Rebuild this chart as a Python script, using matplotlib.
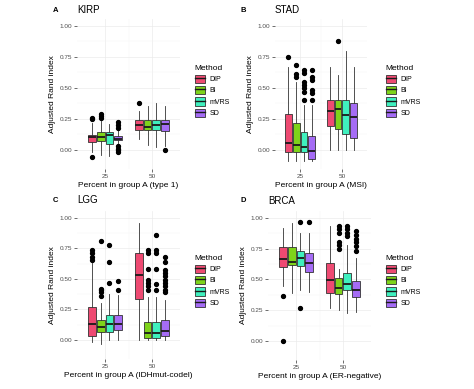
import numpy as np
import matplotlib
matplotlib.use("Agg")
import matplotlib.pyplot as plt
from matplotlib.patches import Patch
from matplotlib.lines import Line2D

plt.rcParams["font.family"] = ["Liberation Sans", "DejaVu Sans"]

methods = ["DIP", "BI", "mVRS", "SD"]
colors = ["#EE4A72", "#7ED31A", "#3FF0BE", "#A56CF5"]
groups = ["25", "50"]

# box statistics, rows = group (25, 50), columns = method
kirp_q1 = [[0.060, 0.067, 0.048, 0.075], [0.156, 0.156, 0.156, 0.150]]
kirp_med = [[0.100, 0.107, 0.121, 0.090], [0.200, 0.185, 0.200, 0.210]]
kirp_q3 = [[0.121, 0.140, 0.143, 0.113], [0.242, 0.240, 0.240, 0.240]]
kirp_lo = [[-0.02, -0.04, -0.05, 0.04], [0.09, 0.04, 0.02, 0.03]]
kirp_hi = [[0.22, 0.23, 0.205, 0.16], [0.31, 0.35, 0.38, 0.35]]
kirp_out = [[[0.26, 0.245, -0.055], [0.285, 0.27, 0.26], [],
             [0.228, 0.20, 0.175, 0.027, 0.01, -0.005, -0.02]],
            [[0.38], [], [], [0.0]]]

stad_q1 = [[-0.014, -0.014, -0.020, -0.075], [0.194, 0.167, 0.127, 0.094]]
stad_med = [[0.054, 0.040, 0.019, -0.008], [0.310, 0.328, 0.282, 0.264]]
stad_q3 = [[0.290, 0.220, 0.143, 0.113], [0.403, 0.403, 0.403, 0.376]]
stad_lo = [[-0.094, -0.094, -0.094, -0.094], [0.0, 0.0, 0.0, 0.0]]
stad_hi = [[0.67, 0.55, 0.36, 0.36], [0.667, 0.605, 0.80, 0.667]]
stad_out = [[[0.75], [0.685, 0.61, 0.59],
             [0.645, 0.62, 0.55, 0.524, 0.497, 0.47, 0.40],
             [0.64, 0.59, 0.565, 0.48, 0.46, 0.40]],
            [[], [0.88], [], []]]

lgg_q1 = [[0.033, 0.068, 0.068, 0.082], [0.333, 0.020, 0.020, 0.033]]
lgg_med = [[0.128, 0.109, 0.130, 0.130], [0.530, 0.060, 0.060, 0.070]]
lgg_q3 = [[0.272, 0.163, 0.204, 0.204], [0.709, 0.150, 0.150, 0.163]]
lgg_lo = [[-0.02, -0.03, 0.0, 0.0], [0.0, 0.0, 0.0, 0.0]]
lgg_hi = [[0.627, 0.30, 0.38, 0.37], [0.96, 0.354, 0.35, 0.33]]
lgg_out = [[[0.736, 0.71, 0.68, 0.654], [0.81, 0.42, 0.41, 0.395, 0.36],
            [0.777, 0.635, 0.47], [0.485, 0.41]],
           [[], [0.74, 0.71, 0.578, 0.49, 0.47, 0.44, 0.41],
            [0.86, 0.74, 0.71, 0.578, 0.46, 0.41],
            [0.676, 0.64, 0.575, 0.55, 0.52, 0.49, 0.465, 0.44, 0.41, 0.39]]]

brca_q1 = [[0.600, 0.615, 0.607, 0.560], [0.386, 0.380, 0.410, 0.360]]
brca_med = [[0.664, 0.640, 0.670, 0.630], [0.494, 0.430, 0.465, 0.415]]
brca_q3 = [[0.759, 0.760, 0.730, 0.715], [0.630, 0.510, 0.550, 0.487]]
brca_lo = [[0.445, 0.386, 0.41, 0.40], [0.27, 0.25, 0.23, 0.236]]
brca_hi = [[0.92, 0.96, 0.88, 0.88], [0.93, 0.58, 0.78, 0.67]]
brca_out = [[[0.364, 0.0], [], [0.964, 0.27], [0.964]],
            [[], [0.937, 0.91, 0.88, 0.806, 0.78, 0.747],
             [0.937, 0.91, 0.88, 0.853],
             [0.896, 0.86, 0.825, 0.80, 0.77, 0.73]]]

panels = [
    ("A", "KIRP", "Percent in group A (type 1)",
     kirp_q1, kirp_med, kirp_q3, kirp_lo, kirp_hi, kirp_out),
    ("B", "STAD", "Percent in group A (MSI)",
     stad_q1, stad_med, stad_q3, stad_lo, stad_hi, stad_out),
    ("C", "LGG", "Percent in group A (IDHmut-codel)",
     lgg_q1, lgg_med, lgg_q3, lgg_lo, lgg_hi, lgg_out),
    ("D", "BRCA", "Percent in group A (ER-negative)",
     brca_q1, brca_med, brca_q3, brca_lo, brca_hi, brca_out),
]

W, H = 474, 389
# axes boxes in pixels: left, top, right, bottom
boxes = [(77, 19, 180, 169), (275, 19, 367, 169),
         (77, 211, 180, 359), (268, 211, 371, 360)]
legend_pos = [(190, 60), (381, 60), (190, 250), (381, 250)]
letter_pos = [(53, 10), (240, 10), (53, 200), (240, 201)]

fig = plt.figure(figsize=(W / 100, H / 100), dpi=100)

dodge = 0.1875
offsets = (np.arange(4) - 1.5) * dodge

for i, (letter, title, xlab, q1, med, q3, lo, hi, out) in enumerate(panels):
    l, t, r, b = boxes[i]
    ax = fig.add_axes([l / W, 1 - b / H, (r - l) / W, (b - t) / H])

    stats, pos, cols = [], [], []
    for g in range(2):
        for m in range(4):
            stats.append(dict(q1=q1[g][m], med=med[g][m], q3=q3[g][m],
                              whislo=lo[g][m], whishi=hi[g][m],
                              fliers=out[g][m]))
            pos.append(g + 1 + offsets[m])
            cols.append(colors[m])

    bp = ax.bxp(stats, positions=pos, widths=0.165, patch_artist=True,
                showcaps=False,
                boxprops=dict(edgecolor="#333333", linewidth=0.6),
                medianprops=dict(color="#1A1A1A", linewidth=1.3),
                whiskerprops=dict(color="#333333", linewidth=0.6),
                flierprops=dict(marker="o", markersize=2.8,
                                markerfacecolor="black",
                                markeredgecolor="black"))
    for patch, c in zip(bp["boxes"], cols):
        patch.set_facecolor(c)

    ax.set_xlim(0.4, 2.6)
    ax.set_ylim(-0.155, 1.055)
    ax.set_xticks([1, 2])
    ax.set_xticklabels(groups)
    ax.set_yticks([0, 0.25, 0.5, 0.75, 1.0])
    ax.set_yticklabels(["0.00", "0.25", "0.50", "0.75", "1.00"])
    ax.set_yticks([0.125, 0.375, 0.625, 0.875], minor=True)
    ax.set_xticks([1.5], minor=True)
    ax.tick_params(which="major", length=2, width=0.5, color="#333333",
                   labelsize=4.6, labelcolor="#4D4D4D", pad=1.5)
    ax.tick_params(which="minor", length=0)
    ax.grid(True, which="major", color="#EBEBEB", linewidth=0.5)
    ax.grid(True, which="minor", color="#F5F5F5", linewidth=0.3)
    ax.set_axisbelow(True)
    for s in ax.spines.values():
        s.set_visible(False)

    ax.set_xlabel(xlab, fontsize=6, labelpad=2.5)
    ax.set_ylabel("Adjusted Rand index", fontsize=6, labelpad=2.5)

    lx, ly = letter_pos[i]
    fig.text(lx / W, 1 - ly / H, letter, fontsize=5.5, fontweight="bold",
             va="center", ha="left")
    fig.text(l / W, 1 - ly / H, title, fontsize=7, va="center", ha="left")

    handles = [(Patch(facecolor=c, edgecolor="#333333", linewidth=0.6),
                Line2D([], [], color="#1A1A1A", linewidth=1.0))
               for c in colors]
    gx, gy = legend_pos[i]
    leg = ax.legend(handles, methods, title="Method", loc="upper left",
                    bbox_to_anchor=(gx / W, 1 - gy / H),
                    bbox_transform=fig.transFigure, frameon=False,
                    fontsize=5, title_fontsize=6, handlelength=1.5,
                    handleheight=1.5, labelspacing=0.4, handletextpad=0.6,
                    borderpad=0.2)
    leg._legend_box.align = "left"

fig.savefig("out.png", dpi=100)
